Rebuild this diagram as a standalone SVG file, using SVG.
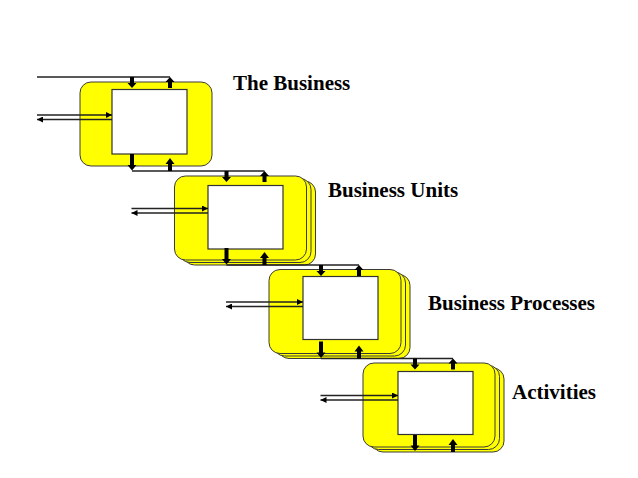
<svg xmlns="http://www.w3.org/2000/svg" width="638" height="478" viewBox="0 0 638 478">
  <style>
    .outer { fill: #FFFF00; stroke: #3a3a3a; stroke-width: 1; }
    .inner { fill: #FFFFFF; stroke: #333333; stroke-width: 1.2; }
    .label { font-family: "Liberation Serif", "Times New Roman", serif; font-weight: bold; font-size: 21px; fill: #000000; }
    .line { fill: none; stroke: #222222; stroke-width: 1.3; }
    .thin { fill: none; stroke: #222222; stroke-width: 1.3; }
    .block { fill: #000000; stroke: none; }
  </style>
  <defs>
    <marker id="ah" viewBox="0 0 10 10" refX="10" refY="5" markerWidth="8" markerHeight="6" markerUnits="userSpaceOnUse" orient="auto">
      <path d="M0,0 L10,5 L0,10 z" fill="#000000"/>
    </marker>
  </defs>

  <rect width="638" height="478" fill="#FFFFFF"/>

  <!-- Node 1 -->
  <g id="node-the-business">
    <rect class="outer" x="80" y="82" width="132" height="84" rx="11"/>
    <rect class="inner" x="112" y="89.5" width="75" height="64.5"/>
    <text class="label" x="233" y="89.5">The Business</text>
  </g>

  <!-- Node 2 -->
  <g id="node-business-units">
    <rect class="outer" x="183.5" y="181" width="132" height="84" rx="11"/>
    <rect class="outer" x="179" y="178.5" width="132" height="84" rx="11"/>
    <rect class="outer" x="174.5" y="176" width="132" height="84" rx="11"/>
    <rect class="inner" x="208" y="185.5" width="75" height="63.5"/>
    <text class="label" x="328" y="197">Business Units</text>
  </g>

  <!-- Node 3 -->
  <g id="node-business-processes">
    <rect class="outer" x="278" y="274.5" width="132" height="84" rx="11"/>
    <rect class="outer" x="273.5" y="272" width="132" height="84" rx="11"/>
    <rect class="outer" x="269" y="269.5" width="132" height="84" rx="11"/>
    <rect class="inner" x="303" y="276.5" width="75" height="63"/>
    <text class="label" x="428" y="309.5">Business Processes</text>
  </g>

  <!-- Node 4 -->
  <g id="node-activities">
    <rect class="outer" x="372" y="368" width="132" height="84" rx="11"/>
    <rect class="outer" x="367.5" y="365.5" width="132" height="84" rx="11"/>
    <rect class="outer" x="363" y="363" width="132" height="84" rx="11"/>
    <rect class="inner" x="398" y="371.5" width="75" height="63"/>
    <text class="label" x="512" y="399">Activities</text>
  </g>

  <!-- Connectors -->
  <g id="connectors">
    <!-- top feed lines -->
    <path class="line" d="M37,77 H170"/>
    <path class="line" d="M132,171 H264.5"/>
    <path class="line" d="M226.5,265 H359"/>
    <path class="line" d="M321,358.5 H453"/>

    <!-- side in/out arrows -->
    <line class="thin" x1="37" y1="115" x2="112" y2="115" marker-end="url(#ah)"/>
    <line class="thin" x1="112" y1="119.5" x2="37" y2="119.5" marker-end="url(#ah)"/>
    <line class="thin" x1="131.5" y1="208.5" x2="208" y2="208.5" marker-end="url(#ah)"/>
    <line class="thin" x1="208" y1="213" x2="131.5" y2="213" marker-end="url(#ah)"/>
    <line class="thin" x1="226" y1="302" x2="303" y2="302" marker-end="url(#ah)"/>
    <line class="thin" x1="303" y1="306.5" x2="226" y2="306.5" marker-end="url(#ah)"/>
    <line class="thin" x1="320.5" y1="395.5" x2="398" y2="395.5" marker-end="url(#ah)"/>
    <line class="thin" x1="398" y1="400" x2="320.5" y2="400" marker-end="url(#ah)"/>

    <!-- block arrows: node 1 -->
    <path class="block" d="M130,77 H134 V83 H136.5 L132,88 L127.5,83 H130 Z"/>
    <path class="block" d="M168,88 H172 V82 H174.5 L170,77 L165.5,82 H168 Z"/>
    <path class="block" d="M130,154 H134 V165 H136.5 L132,170.5 L127.5,165 H130 Z"/>
    <path class="block" d="M168,171 H172 V164 H174.5 L170,158 L165.5,164 H168 Z"/>

    <!-- node 2 -->
    <path class="block" d="M224.5,171 H228.5 V177 H231 L226.5,182 L222,177 H224.5 Z"/>
    <path class="block" d="M262.5,182 H266.5 V176 H269 L264.5,171 L260,176 H262.5 Z"/>
    <path class="block" d="M224.5,248 H228.5 V259 H231 L226.5,264.5 L222,259 H224.5 Z"/>
    <path class="block" d="M262.5,265 H266.5 V258 H269 L264.5,252 L260,258 H262.5 Z"/>

    <!-- node 3 -->
    <path class="block" d="M319,265 H323 V271 H325.5 L321,276 L316.5,271 H319 Z"/>
    <path class="block" d="M357,276 H361 V270 H363.5 L359,265 L354.5,270 H357 Z"/>
    <path class="block" d="M319,341.5 H323 V352.5 H325.5 L321,358 L316.5,352.5 H319 Z"/>
    <path class="block" d="M357,358.5 H361 V351.5 H363.5 L359,345.5 L354.5,351.5 H357 Z"/>

    <!-- node 4 -->
    <path class="block" d="M413,358.5 H417 V364.5 H419.5 L415,369.5 L410.5,364.5 H413 Z"/>
    <path class="block" d="M451,369.5 H455 V363.5 H457.5 L453,358.5 L448.5,363.5 H451 Z"/>
    <path class="block" d="M413,435 H417 V445.5 H419.5 L415,451 L410.5,445.5 H413 Z"/>
    <path class="block" d="M451,452 H455 V445 H457.5 L453,439 L448.5,445 H451 Z"/>
  </g>
</svg>
